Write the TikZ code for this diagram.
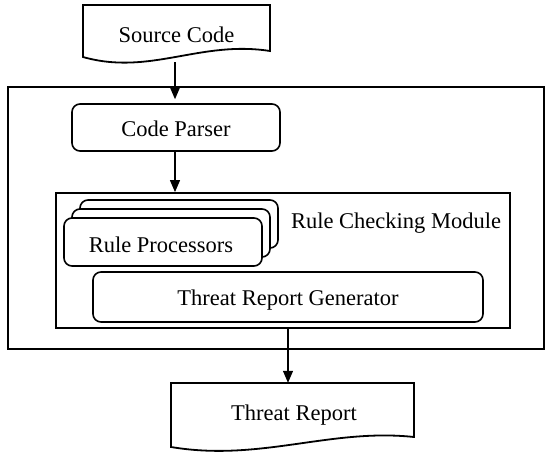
\documentclass[tikz,border=0pt]{standalone}
\usepackage{fontspec}
\setmainfont{Liberation Serif}
\usetikzlibrary{arrows.meta,calc}
\begin{document}
\begin{tikzpicture}[x=1pt,y=-1pt,
  lbl/.style={font=\fontsize{22.5}{26}\selectfont, inner sep=0pt},
  rbox/.style={draw, line width=1.6pt, rounded corners=8pt, fill=white, inner sep=0pt},
  frame/.style={draw, line width=1.8pt, inner sep=0pt},
  docline/.style={line width=1.8pt, line join=miter},
  arr/.style={-{Triangle[width=10pt,length=12pt]}, line width=1.2pt}]
\useasboundingbox (0,0) rectangle (550,456);

% Source Code document
\draw[docline] (83,57) -- (83,5) -- (270,5) -- (270,51)
  .. controls (200,40) and (150,76) .. (83,57) -- cycle;
\node[lbl, minimum width=187pt, minimum height=52pt] (src) at (176.5,35) {Source Code};
\coordinate (srcout) at (175,62);

% outer frame
\node[frame, minimum width=536pt, minimum height=262pt] (outer) at (276,218) {};

% Code parser
\node[rbox, minimum width=208pt, minimum height=47pt] (parser) at (176,127.5) {};
\node[lbl] (parserlbl) at (176,129) {Code Parser};

% Rule checking module
\node[frame, minimum width=454pt, minimum height=135pt] (rcm) at (283,260.5) {};
\node[lbl, anchor=center] (rcmlbl) at (396,223) {Rule Checking Module};

% stacked rule processors
\node[rbox, minimum width=198pt, minimum height=48pt] (rp3) at (179,224) {};
\node[rbox, minimum width=198pt, minimum height=48pt] (rp2) at (171,233) {};
\node[rbox, minimum width=198pt, minimum height=48pt] (rp1) at (163,242) {};
\node[lbl] (rp1lbl) at (161,245) {Rule Processors};

% threat report generator
\node[rbox, minimum width=390pt, minimum height=50pt] (trg) at (288,297) {};
\node[lbl] (trglbl) at (288,300) {Threat Report Generator};

% Threat Report document
\draw[docline] (171,447) -- (171,383) -- (414,383) -- (414,437)
  .. controls (330,428) and (260,462) .. (171,447) -- cycle;
\node[lbl, minimum width=243pt, minimum height=60pt] (tr) at (292.5,413) {};
\node[lbl] (trlbl) at (294,415) {Threat Report};

% connectors
\draw[arr] (srcout) -- ($(parser.north)+(-1,-4)$);
\draw[arr] ($(parser.south)+(-1,0)$) -- ($(parser.south |- rcm.north)+(-1,0)$);
\draw[arr] (trg.center |- rcm.south) -- ($(trg.center |- tr.north)+(0,0)$);
\end{tikzpicture}
\end{document}
